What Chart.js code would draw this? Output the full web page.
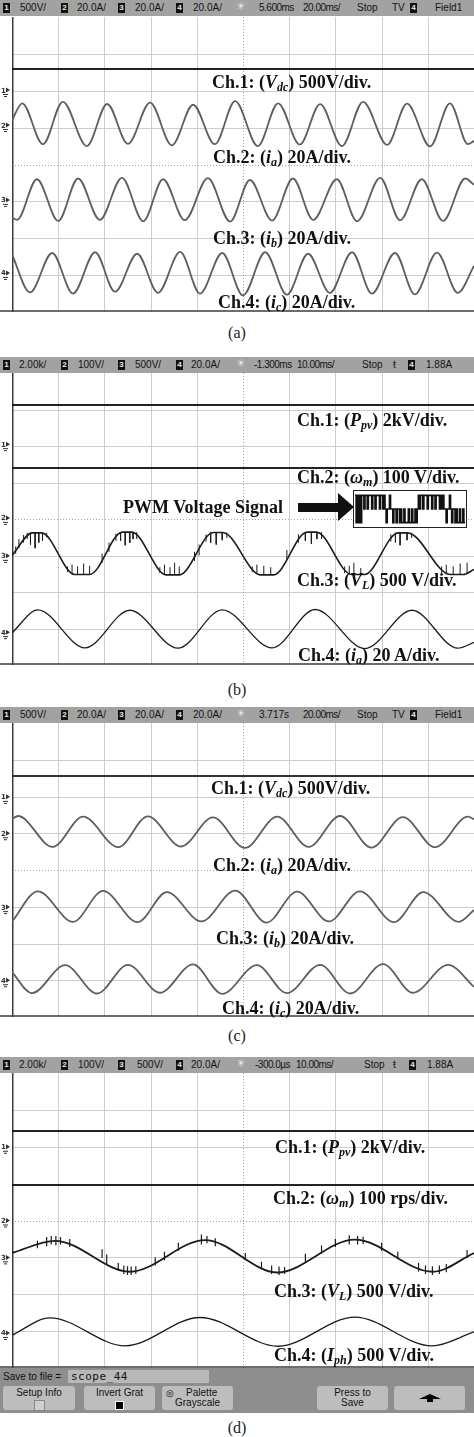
<!DOCTYPE html>
<html>
<head>
<meta charset="utf-8">
<script src="https://cdn.jsdelivr.net/npm/chart.js@4.4.0/dist/chart.umd.min.js"></script>
<style>
  body { margin: 0; width: 474px; height: 1437px; background: #fff; position: relative; overflow: hidden; font-family: "Liberation Sans", Arial, sans-serif; }
  .hdr { position: absolute; left: 0; width: 474px; height: 16px; background: #a2a2a2; font-size: 10px; color: #151515; }
  .hdr span { position: absolute; top: 2px; line-height: 12px; white-space: nowrap; }
  .hdr span.tight { letter-spacing: -0.5px; }
  .hdr b { position: absolute; top: 3px; width: 7px; height: 10px; background: #111; color: #e8e8e8; font-size: 8px; line-height: 10px; text-align: center; }
  .hdr .sun { color: #e4e4e4; font-family: "DejaVu Sans", sans-serif; font-size: 11px; top: 1px; }
  canvas.plot { position: absolute; left: 0; }
  .lab { position: absolute; font-family: "Liberation Serif", "Times New Roman", serif; font-weight: bold; font-size: 18px; line-height: 20px; white-space: nowrap; color: #111; }
  .lab sub { font-size: 12px; vertical-align: -3px; line-height: 0; }
  .cap { position: absolute; left: 0; width: 474px; text-align: center; font-family: "Liberation Serif", serif; font-size: 16px; line-height: 18px; color: #222; }
  .menu { position: absolute; left: 0; top: 1368px; width: 474px; height: 45px; background: #8e8e8e; font-size: 10px; color: #111; }
  .menu .fld { position: absolute; left: 68px; top: 2px; width: 141px; height: 13px; background: #b8b8b8; font-family: "DejaVu Sans Mono", monospace; font-size: 11px; line-height: 13px; letter-spacing: 0.5px; padding-left: 3px; box-sizing: border-box; }
  .menu .btn { position: absolute; top: 18px; height: 24px; width: 71px; background: #bdbdbd; border-radius: 3px; text-align: center; line-height: 10px; font-size: 10px; }
</style>
</head>
<body>
<canvas id="pa" class="plot" width="474" height="295" style="top:17px"></canvas>
<canvas id="pb" class="plot" width="474" height="292" style="top:373px"></canvas>
<canvas id="pc" class="plot" width="474" height="294" style="top:723px"></canvas>
<canvas id="pd" class="plot" width="474" height="295" style="top:1073px"></canvas>
<div style="position:absolute;left:353px;top:490px;width:112px;height:36px;border:1px solid #222;background:#fff">
  <canvas id="pwm" width="112" height="36"></canvas>
</div>
<svg style="position:absolute;left:296px;top:490px" width="60" height="34">
  <polygon points="2,13 42,13 42,3 58,17 42,31 42,22 2,22" fill="#111"/>
</svg>
<script>
// ---- values, in screen divisions (x: 0..10 time div, y: 0..8 from the bottom) ----

// (a) Vdc and three phase currents, 20 ms/div
const a1X = [0, 10];
const a1Y = [6.59, 6.59];
const a2X = [0, 0.22, 0.67, 1.10, 1.62, 2.06, 2.51, 2.99, 3.46, 3.92, 4.39, 4.83, 5.32, 5.76, 6.23, 6.67, 7.14, 7.60, 8.12, 8.55, 9.05, 9.48, 9.87, 10];
const a2Y = [5.20, 5.66, 4.55, 5.70, 4.50, 5.64, 4.56, 5.68, 4.52, 5.62, 4.55, 5.72, 4.50, 5.66, 4.54, 5.64, 4.50, 5.70, 4.53, 5.65, 4.49, 5.66, 4.55, 4.64];
const a3X = [0, 0.11, 0.54, 1.00, 1.43, 1.90, 2.38, 2.84, 3.27, 3.74, 4.24, 4.72, 5.15, 5.63, 6.08, 6.52, 7.03, 7.47, 7.97, 8.40, 8.87, 9.33, 9.81, 10];
const a3Y = [2.56, 2.50, 3.60, 2.47, 3.62, 2.50, 3.64, 2.46, 3.60, 2.49, 3.63, 2.45, 3.58, 2.48, 3.62, 2.50, 3.60, 2.46, 3.64, 2.49, 3.60, 2.47, 3.62, 3.45];
const a4X = [0, 0.39, 0.87, 1.32, 1.80, 2.23, 2.71, 3.16, 3.64, 4.07, 4.55, 5.00, 5.48, 5.95, 6.41, 6.88, 7.36, 7.79, 8.29, 8.72, 9.20, 9.65, 10];
const a4Y = [1.56, 0.53, 1.60, 0.50, 1.62, 0.55, 1.58, 0.52, 1.63, 0.50, 1.60, 0.45, 1.62, 0.47, 1.58, 0.52, 1.62, 0.50, 1.60, 0.48, 1.61, 0.52, 1.25];
const aMarkers = [['1', 6.02], ['2', 5.07], ['3', 3.04], ['4', 1.06]];

// (b) Ppv, speed, PWM line voltage and phase current, 10 ms/div
const b1X = [0, 10];
const b1Y = [7.12, 7.12];
const b2X = [0, 10];
const b2Y = [5.40, 5.40];
const b3X = [0, 0.44, 0.64, 1.36, 1.68, 2.39, 2.59, 3.34, 3.62, 4.36, 4.56, 5.38, 5.66, 6.39, 6.59, 7.35, 7.63, 8.36, 8.56, 9.49, 9.77, 10];
const b3Y = [3.00, 3.62, 3.62, 2.48, 2.48, 3.64, 3.64, 2.47, 2.47, 3.63, 3.63, 2.47, 2.47, 3.64, 3.64, 2.48, 2.48, 3.62, 3.62, 2.48, 2.48, 2.62];
const b3Spikes = [
  [0.15, 3.20, 3.45], [0.25, 3.35, 3.56], [0.40, 3.62, 3.30], [0.50, 3.62, 3.20], [0.58, 3.64, 3.35], [0.66, 3.62, 3.40],
  [1.30, 2.50, 2.75], [1.42, 2.48, 2.70], [1.55, 2.48, 2.78], [1.68, 2.48, 2.72], [1.95, 2.80, 3.05], [2.10, 3.10, 3.35],
  [2.35, 3.64, 3.40], [2.45, 3.64, 3.28], [2.55, 3.64, 3.35], [2.62, 3.62, 3.45], [3.30, 2.47, 2.75], [3.42, 2.47, 2.68],
  [3.52, 2.47, 2.80], [3.62, 2.48, 2.70], [3.95, 2.85, 3.10], [4.05, 3.00, 3.30], [4.30, 3.63, 3.35], [4.42, 3.63, 3.30],
  [4.55, 3.63, 3.42], [5.30, 2.50, 2.75], [5.45, 2.47, 2.72], [5.60, 2.47, 2.68], [5.95, 2.90, 3.15], [6.35, 3.64, 3.40],
  [6.48, 3.64, 3.32], [6.60, 3.64, 3.45], [7.30, 2.48, 2.72], [7.40, 2.48, 2.80], [7.55, 2.48, 2.66], [8.30, 3.62, 3.36],
  [8.40, 3.62, 3.28], [8.55, 3.62, 3.42], [9.40, 2.48, 2.75], [9.55, 2.48, 2.70], [9.70, 2.48, 2.78], [9.85, 2.50, 2.80],
  [0.08, 3.05, 3.25], [0.33, 3.45, 3.62], [0.75, 3.50, 3.62], [1.20, 2.55, 2.70], [2.25, 3.40, 3.60], [2.70, 3.45, 3.64],
  [3.20, 2.52, 2.68], [4.20, 3.38, 3.58], [4.65, 3.48, 3.63], [5.20, 2.55, 2.70], [6.20, 3.35, 3.58], [6.70, 3.45, 3.64],
  [7.20, 2.52, 2.70], [8.20, 3.38, 3.58], [8.65, 3.48, 3.62], [9.30, 2.52, 2.70]
];
const b4X = [0, 0.56, 1.58, 2.55, 3.59, 4.55, 5.63, 6.56, 7.64, 8.66, 9.65, 10];
const b4Y = [0.88, 1.51, 0.47, 1.50, 0.46, 1.51, 0.47, 1.52, 0.45, 1.50, 0.46, 0.62];
const bMarkers = [['1', 6.05], ['2', 4.03], ['3', 2.99], ['4', 0.90]];
// PWM inset: inverter output level per switching slot (0 low, 1 mid, 2 high)
const pwmLevels = [
  2, 0, 2, 0, 2, 0, 2,
  2, 1, 2, 2, 1, 2, 2, 2, 1, 2, 2, 1, 2, 2, 2, 1, 2, 2, 1, 2,
  1, 0, 1, 1, 2, 1, 1, 0, 1, 1, 0, 1, 1,
  0, 1, 0, 0, 1, 0, 0, 0, 1, 0, 0, 1, 0, 0, 1, 0, 1,
  2, 1, 2, 2, 1, 2, 2, 2, 1, 2, 2, 2, 1, 2, 2, 1, 2, 2, 2, 1, 2, 1, 2, 1,
  1, 0, 1, 1, 2, 1, 0, 1, 1,
  0, 1, 0, 0, 1, 0, 0, 1, 0, 0
];

// (c) Vdc and three phase currents, second operating point
const c1X = [0, 10];
const c1Y = [6.56, 6.56];
const c2X = [0, 0.13, 0.88, 1.54, 2.30, 2.94, 3.66, 4.35, 5.04, 5.74, 6.42, 7.10, 7.78, 8.46, 9.16, 9.87, 10];
const c2Y = [5.39, 5.47, 4.63, 5.45, 4.62, 5.46, 4.64, 5.43, 4.60, 5.45, 4.63, 5.47, 4.61, 5.44, 4.62, 5.45, 5.38];
const c3X = [0, 0.56, 1.32, 1.97, 2.72, 3.35, 4.10, 4.83, 5.51, 6.17, 6.86, 7.53, 8.27, 8.90, 9.67, 10];
const c3Y = [2.60, 3.42, 2.59, 3.43, 2.58, 3.40, 2.60, 3.44, 2.57, 3.41, 2.60, 3.42, 2.58, 3.40, 2.59, 2.91];
const c4X = [0, 0.43, 1.15, 1.84, 2.51, 3.20, 3.92, 4.55, 5.30, 5.95, 6.67, 7.32, 8.03, 8.68, 9.44, 10];
const c4Y = [1.22, 0.65, 1.41, 0.64, 1.42, 0.66, 1.43, 0.63, 1.41, 0.65, 1.42, 0.64, 1.44, 0.66, 1.42, 0.82];
const cMarkers = [['1', 5.99], ['2', 5.00], ['3', 2.99], ['4', 1.00]];

// (d) Ppv, speed, line voltage and phase current
const d1X = [0, 10];
const d1Y = [6.43, 6.43];
const d2X = [0, 10];
const d2Y = [4.96, 4.96];
const d3X = [0, 0.93, 2.55, 4.18, 5.74, 7.42, 9.11, 10];
const d3Y = [3.12, 3.45, 2.61, 3.47, 2.59, 3.48, 2.61, 3.12];
const d3Spikes = [
  [0.55, 3.25, 3.45], [0.75, 3.30, 3.55], [0.85, 3.35, 3.58], [0.95, 3.32, 3.58], [1.05, 3.35, 3.55], [1.25, 3.28, 3.50],
  [1.95, 2.98, 3.22], [2.05, 2.80, 3.08], [2.30, 2.65, 2.85], [2.42, 2.55, 2.78], [2.50, 2.52, 2.76], [2.58, 2.52, 2.75],
  [2.68, 2.55, 2.76], [3.10, 2.78, 3.00], [3.30, 2.92, 3.15], [3.60, 3.18, 3.40], [4.10, 3.35, 3.62], [4.22, 3.38, 3.58],
  [4.40, 3.30, 3.52], [5.05, 2.92, 3.12], [5.40, 2.68, 2.88], [5.62, 2.55, 2.78], [5.78, 2.52, 2.75], [5.90, 2.55, 2.74],
  [6.35, 2.88, 3.10], [6.70, 3.10, 3.32], [7.00, 3.28, 3.50], [7.30, 3.35, 3.60], [7.48, 3.35, 3.58], [7.60, 3.36, 3.56],
  [8.00, 3.18, 3.40], [8.35, 2.95, 3.15], [8.80, 2.62, 2.85], [8.95, 2.55, 2.78], [9.10, 2.52, 2.76], [9.25, 2.55, 2.78],
  [9.40, 2.60, 2.82], [9.85, 2.98, 3.20]
];
const d4X = [0, 0.82, 2.45, 4.07, 5.76, 7.42, 9.09, 10];
const d4Y = [0.89, 1.36, 0.60, 1.37, 0.59, 1.38, 0.60, 0.98];
const dMarkers = [['1', 6.00], ['2', 4.00], ['3', 3.00], ['4', 0.95]];

// header readouts
const hdrA = [[3, '1', 1], [20, '500V/'], [61, '2', 1], [77, '20.0A/'], [118, '3', 1], [135, '20.0A/'], [176, '4', 1], [193, '20.0A/'],
  [236, '☀', 2], [259, '5.600ms', 3], [303, '20.00ms/', 3], [357, 'Stop'], [392, 'TV'], [410, '4', 1], [435, 'Field1']];
const hdrB = [[3, '1', 1], [19, '2.00k/'], [61, '2', 1], [78, '100V/'], [118, '3', 1], [135, '500V/'], [176, '4', 1], [191, '20.0A/'],
  [236, '☀', 2], [254, '-1.300ms', 3], [297, '10.00ms/', 3], [362, 'Stop'], [393, 'ŧ'], [408, '4', 1], [426, '1.88A']];
const hdrC = [[3, '1', 1], [20, '500V/'], [61, '2', 1], [77, '20.0A/'], [118, '3', 1], [135, '20.0A/'], [176, '4', 1], [193, '20.0A/'],
  [236, '☀', 2], [259, '3.717s'], [303, '20.00ms/', 3], [357, 'Stop'], [392, 'TV'], [410, '4', 1], [435, 'Field1']];
const hdrD = [[3, '1', 1], [19, '2.00k/'], [61, '2', 1], [78, '100V/'], [118, '3', 1], [137, '500V/'], [176, '4', 1], [191, '20.0A/'],
  [236, '☀', 2], [255, '-300.0µs', 3], [296, '10.00ms/', 3], [364, 'Stop'], [393, 'ŧ'], [409, '4', 1], [427, '1.88A']];

// annotations: [left, centre y, html]
const labels = [
  [212, 82, 'Ch.1: (<i>V</i><sub><i>dc</i></sub>) 500V/div.'],
  [213, 157, 'Ch.2: (<i>i</i><sub><i>a</i></sub>) 20A/div.'],
  [213, 238, 'Ch.3: (<i>i</i><sub><i>b</i></sub>) 20A/div.'],
  [218, 302, 'Ch.4: (<i>i</i><sub><i>c</i></sub>) 20A/div.'],
  [297, 420, 'Ch.1: (<i>P</i><sub><i>pv</i></sub>) 2kV/div.'],
  [297, 477, 'Ch.2: (<i>ω</i><sub><i>m</i></sub>) 100 V/div.'],
  [123, 507, 'PWM Voltage Signal'],
  [297, 580, 'Ch.3: (<i>V</i><sub><i>L</i></sub>) 500 V/div.'],
  [298, 655, 'Ch.4: (<i>i</i><sub><i>a</i></sub>) 20 A/div.'],
  [211, 788, 'Ch.1: (<i>V</i><sub><i>dc</i></sub>) 500V/div.'],
  [213, 865, 'Ch.2: (<i>i</i><sub><i>a</i></sub>) 20A/div.'],
  [216, 938, 'Ch.3: (<i>i</i><sub><i>b</i></sub>) 20A/div.'],
  [222, 1008, 'Ch.4: (<i>i</i><sub><i>c</i></sub>) 20A/div.'],
  [275, 1147, 'Ch.1: (<i>P</i><sub><i>pv</i></sub>) 2kV/div.'],
  [273, 1198, 'Ch.2: (<i>ω</i><sub><i>m</i></sub>) 100 rps/div.'],
  [274, 1291, 'Ch.3: (<i>V</i><sub><i>L</i></sub>) 500 V/div.'],
  [274, 1355, 'Ch.4: (<i>I</i><sub><i>ph</i></sub>) 500 V/div.']
];
const captions = [['(a)', 333], ['(b)', 690], ['(c)', 1036], ['(d)', 1428]];

// ---- helpers ----
function pts(xs, ys) {
  return xs.map((x, i) => ({ x, y: ys[i] }));
}

function spikePts(list) {
  const out = [];
  list.forEach(([x, lo, hi]) => out.push({ x, y: lo }, { x, y: hi }, { x, y: null }));
  return out;
}

function trace(data, color, width, smooth) {
  return {
    data,
    borderColor: color,
    borderWidth: width,
    pointRadius: 0,
    fill: false,
    tension: 0,
    spanGaps: false,
    cubicInterpolationMode: smooth ? 'monotone' : 'default'
  };
}

// graticule, borders and channel ground markers
const scopeGrid = {
  id: 'scopeGrid',
  beforeDatasetsDraw(chart, args, opts) {
    const { ctx, chartArea: a, scales: { x, y } } = chart;
    ctx.save();
    ctx.lineWidth = 1;
    ctx.strokeStyle = '#cdcdcd';
    ctx.beginPath();
    for (let i = 1; i < 10; i++) {
      if (i === 5) continue;
      const px = Math.round(x.getPixelForValue(i)) + 0.5;
      ctx.moveTo(px, a.top);
      ctx.lineTo(px, a.bottom);
    }
    for (let j = 1; j < 8; j++) {
      if (j === 4) continue;
      const py = Math.round(y.getPixelForValue(j)) + 0.5;
      ctx.moveTo(a.left, py);
      ctx.lineTo(a.right, py);
    }
    ctx.stroke();

    // centre axes, dotted
    ctx.strokeStyle = '#a4a4a4';
    ctx.setLineDash([1, 2]);
    ctx.beginPath();
    const cx = Math.round(x.getPixelForValue(5)) + 0.5;
    const cy = Math.round(y.getPixelForValue(4)) + 0.5;
    ctx.moveTo(cx, a.top);
    ctx.lineTo(cx, a.bottom);
    ctx.moveTo(a.left, cy);
    ctx.lineTo(a.right, cy);
    ctx.stroke();
    ctx.setLineDash([]);

    // left and bottom frame
    ctx.strokeStyle = '#3c3c3c';
    ctx.lineWidth = 1.5;
    ctx.beginPath();
    ctx.moveTo(a.left + 0.75, a.top);
    ctx.lineTo(a.left + 0.75, a.bottom);
    ctx.moveTo(0, a.bottom - 1);
    ctx.lineTo(a.right, a.bottom - 1);
    ctx.stroke();

    // channel markers on the left edge
    ctx.fillStyle = '#333';
    ctx.font = 'bold 7px "DejaVu Sans"';
    (opts.markers || []).forEach(([lab, v]) => {
      const py = y.getPixelForValue(v);
      ctx.fillText(lab, 1, py + 2.5);
      ctx.beginPath();
      ctx.moveTo(6, py - 2.5);
      ctx.lineTo(10, py);
      ctx.lineTo(6, py + 2.5);
      ctx.fill();
      ctx.fillRect(3, py + 4, 5, 1);
      ctx.fillRect(4, py + 6, 3, 1);
    });
    ctx.restore();
  }
};

function scope(id, datasets, markers) {
  return new Chart(document.getElementById(id), {
    type: 'line',
    data: { datasets },
    options: {
      responsive: false,
      animation: false,
      devicePixelRatio: 1,
      events: [],
      layout: { padding: { left: 12, right: 0, top: 0, bottom: 0 } },
      scales: {
        x: { type: 'linear', min: 0, max: 10, display: false },
        y: { type: 'linear', min: 0, max: 8, display: false }
      },
      plugins: {
        legend: { display: false },
        tooltip: { enabled: false },
        scopeGrid: { markers }
      }
    },
    plugins: [scopeGrid]
  });
}

function header(top, items) {
  const h = document.createElement('div');
  h.className = 'hdr';
  h.style.top = top + 'px';
  items.forEach(([x, t, kind]) => {
    const s = document.createElement(kind === 1 ? 'b' : 'span');
    if (kind === 2) s.className = 'sun';
    if (kind === 3) s.className = 'tight';
    s.style.left = x + 'px';
    s.textContent = t;
    h.appendChild(s);
  });
  document.body.appendChild(h);
}

// ---- build ----
const grey = '#5e5e5e';
const ink = '#1c1c1c';

scope('pa', [
  trace(pts(a1X, a1Y), '#222', 2, false),
  trace(pts(a2X, a2Y), grey, 1.8, true),
  trace(pts(a3X, a3Y), grey, 1.8, true),
  trace(pts(a4X, a4Y), grey, 1.8, true)
], aMarkers);

scope('pb', [
  trace(pts(b1X, b1Y), '#222', 2, false),
  trace(pts(b2X, b2Y), '#222', 2, false),
  trace(pts(b3X, b3Y), ink, 1.6, true),
  trace(spikePts(b3Spikes), ink, 1, false),
  trace(pts(b4X, b4Y), ink, 1.3, true)
], bMarkers);

scope('pc', [
  trace(pts(c1X, c1Y), '#333', 2, false),
  trace(pts(c2X, c2Y), grey, 1.8, true),
  trace(pts(c3X, c3Y), grey, 1.8, true),
  trace(pts(c4X, c4Y), grey, 1.8, true)
], cMarkers);

scope('pd', [
  trace(pts(d1X, d1Y), '#222', 2, false),
  trace(pts(d2X, d2Y), '#222', 2, false),
  trace(pts(d3X, d3Y), ink, 1.8, true),
  trace(spikePts(d3Spikes), ink, 1.2, false),
  trace(pts(d4X, d4Y), ink, 1.3, true)
], dMarkers);

new Chart(document.getElementById('pwm'), {
  type: 'line',
  data: {
    labels: pwmLevels.map((v, i) => i),
    datasets: [{
      data: pwmLevels,
      stepped: true,
      borderColor: '#111',
      borderWidth: 1.6,
      pointRadius: 0
    }]
  },
  options: {
    responsive: false,
    animation: false,
    devicePixelRatio: 1,
    events: [],
    layout: { padding: 1 },
    scales: {
      x: { type: 'linear', min: 0, max: pwmLevels.length - 1, display: false },
      y: { min: -0.25, max: 2.25, display: false }
    },
    plugins: { legend: { display: false }, tooltip: { enabled: false } }
  }
});

header(0, hdrA);
header(357, hdrB);
header(707, hdrC);
header(1057, hdrD);

labels.forEach(([x, yc, html]) => {
  const d = document.createElement('div');
  d.className = 'lab';
  d.style.left = x + 'px';
  d.style.top = (yc - 10) + 'px';
  d.innerHTML = html;
  document.body.appendChild(d);
});

captions.forEach(([t, yc]) => {
  const d = document.createElement('div');
  d.className = 'cap';
  d.style.top = (yc - 9) + 'px';
  d.textContent = t;
  document.body.appendChild(d);
});
</script>
<div class="menu">
  <div style="position:absolute;left:3px;top:3px">Save to file =</div>
  <div class="fld">scope_44</div>
  <div class="btn" style="left:3px;width:72px;padding-top:2px;height:22px">Setup Info<div style="width:9px;height:9px;margin:2px auto 0;background:#cfcfcf;border:1px solid #888"></div></div>
  <div class="btn" style="left:84px;padding-top:2px;height:22px">Invert Grat<div style="width:7px;height:7px;margin:3px auto 0;background:#000;border:1px solid #fff"></div></div>
  <div class="btn" style="left:162px;padding-top:2px;height:22px"><span style="position:absolute;left:4px;top:2px;font-size:9px">◎</span>&nbsp;&nbsp;&nbsp;Palette<br>Grayscale</div>
  <div class="btn" style="left:317px;padding-top:2px;height:22px">Press to<br>Save</div>
  <div class="btn" style="left:394px">
    <div style="position:absolute;left:25px;top:8px;width:0;height:0;border-left:11px solid transparent;border-right:11px solid transparent;border-bottom:5px solid #000"></div>
    <div style="position:absolute;left:33px;top:13px;width:6px;height:3px;background:#000"></div>
  </div>
</div>
</body>
</html>
